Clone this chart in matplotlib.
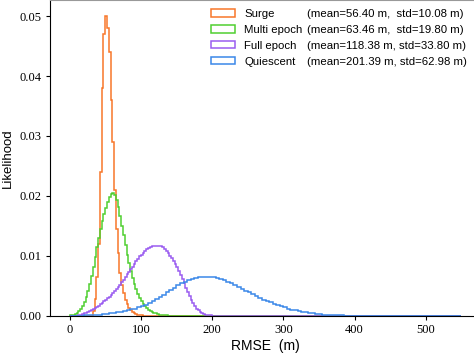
import numpy as np
import matplotlib
matplotlib.use('Agg')
import matplotlib.pyplot as plt
from matplotlib.ticker import FormatStrFormatter

# tick labels are serif, everything else names its own sans family
plt.rcParams['font.family'] = ['Liberation Serif', 'DejaVu Serif']

names = ['Surge', 'Multi epoch', 'Full epoch', 'Quiescent']
stats = ['(mean=56.40 m,  std=10.08 m)',
         '(mean=63.46 m,  std=19.80 m)',
         '(mean=118.38 m, std=33.80 m)',
         '(mean=201.39 m, std=62.98 m)']
colors = ['#f8772a', '#4fcf30', '#9a5cf0', '#3b88e8']

# likelihood per bin
# (first bin left edge, bin width in m, values)
surge_start, surge_width = 32.5, 2.5
surge = [0.0008, 0.0028, 0.0065, 0.0120, 0.024, 0.038, 0.047, 0.050,
         0.048, 0.044, 0.036, 0.029, 0.021, 0.0145, 0.0105, 0.0072,
         0.0052, 0.0038, 0.0027, 0.0019, 0.0013, 0.0009, 0.0006, 0.0004,
         0.00025, 0.00015, 0.0001, 0.00005]

multi_start, multi_width = 0, 2.5
multi = [0.00005, 0.0001, 0.0002, 0.0003, 0.0005, 0.0008, 0.0012, 0.0017,
         0.0023, 0.0031, 0.0041, 0.0053, 0.0067, 0.0082, 0.0098, 0.0114,
         0.0130, 0.0145, 0.0158, 0.0170, 0.0180, 0.0190, 0.0198, 0.0203,
         0.0205, 0.0201, 0.0193, 0.0181, 0.0166, 0.0150, 0.0134, 0.0118,
         0.0102, 0.0088, 0.0075, 0.0063, 0.0053, 0.0044, 0.0037, 0.0030,
         0.0025, 0.0020, 0.0016, 0.0013, 0.0010, 0.0008, 0.0006, 0.0005,
         0.0004, 0.0003, 0.0002, 0.00015, 0.0001, 0.00007, 0.00004, 0.00002]

full_start, full_width = 10, 2.5
full = [0.00003, 0.0001, 0.0002, 0.0003, 0.0004, 0.0005, 0.0006, 0.0008,
        0.0009, 0.0011, 0.0013, 0.0015, 0.0017, 0.0019, 0.0021, 0.0024,
        0.0026, 0.0029, 0.0032, 0.0035, 0.0038, 0.0041, 0.0044, 0.0048,
        0.0052, 0.0056, 0.0060, 0.0064, 0.0069, 0.0073, 0.0078, 0.0082,
        0.0087, 0.0091, 0.0095, 0.0099, 0.0102, 0.0105, 0.0108, 0.0111,
        0.0113, 0.0115, 0.0116, 0.0116, 0.0117, 0.0117, 0.0117, 0.0116,
        0.0114, 0.0111, 0.0108, 0.0104, 0.0100, 0.0096, 0.0091, 0.0086,
        0.0081, 0.0075, 0.0068, 0.0061, 0.0054, 0.0047, 0.0040, 0.0033,
        0.0027, 0.0021, 0.0016, 0.0012, 0.0009, 0.0006, 0.0004, 0.0003,
        0.0002, 0.00013, 0.00008, 0.00005, 0.00003, 0.00002]

quiet_start, quiet_width = 15, 5
quiet = [0.00003, 0.00005, 0.0001, 0.00013, 0.00017, 0.0002, 0.00025, 0.0003,
         0.00037, 0.00045, 0.00055, 0.00065, 0.00078, 0.0009, 0.00105, 0.0012,
         0.0014, 0.0016, 0.0018, 0.0021, 0.0024, 0.0028, 0.0031, 0.0035,
         0.0039, 0.0043, 0.0047, 0.0051, 0.0054, 0.0057, 0.0059, 0.0061,
         0.0063, 0.0064, 0.0065, 0.0065, 0.0065, 0.0064, 0.0063, 0.0061,
         0.0059, 0.0057, 0.0054, 0.0051, 0.0048, 0.0045, 0.0042, 0.0039,
         0.0036, 0.0033, 0.0030, 0.0027, 0.0025, 0.0023, 0.0020, 0.0018,
         0.0016, 0.0014, 0.0012, 0.0010, 0.00088, 0.00075, 0.00064, 0.00054,
         0.00045, 0.00037, 0.0003, 0.00024, 0.00019, 0.00015, 0.00011, 0.00008,
         0.00006, 0.00004, 0.00003, 0.00002, 0.00001]

series = [(surge_start, surge_width, surge),
          (multi_start, multi_width, multi),
          (full_start, full_width, full),
          (quiet_start, quiet_width, quiet)]
x_max = 550  # every histogram runs out to here along the baseline

fig = plt.figure(figsize=(4.74, 3.55), dpi=100)
# the original figure is cropped on the right, so the axes run past the edge
ax = fig.add_axes([50/474, 39.3/355, 431/474, 315.7/355])

handles = []
for (start, width, vals), name, c in zip(series, names, colors):
    edges = np.arange(0, x_max + width / 2, width)
    lefts = edges[:-1]
    w = np.zeros(len(lefts))
    i0 = int(round(start / width))
    w[i0:i0 + len(vals)] = vals
    _, _, patches = ax.hist(lefts, bins=edges, weights=w, histtype='step',
                            color=c, linewidth=1.1, label=name)
    handles.append(patches[0])

ax.set_ylim(0, 0.0527)
ax.yaxis.set_major_formatter(FormatStrFormatter('%.2f'))
ax.set_xticks([0, 100, 200, 300, 400, 500])
ax.set_yticks([0, 0.01, 0.02, 0.03, 0.04, 0.05])
ax.tick_params(length=3, width=0.8, labelsize=9, pad=3)
ax.spines['top'].set_color('#999999')

ax.set_xlabel('RMSE  (m)', family='Liberation Sans', fontsize=10, labelpad=2)
ax.set_ylabel('Likelihood', family='Liberation Sans', fontsize=9.5, labelpad=4)

# two column legend: names with handles, stats with invisible handles
blank = [plt.Rectangle((0, 0), 1, 1, visible=False) for _ in stats]
fs = 8.2 * 100 / 72
leg = ax.legend(handles + blank, names + stats, ncol=2, frameon=False,
                loc='upper left', bbox_to_anchor=(211/474, 1 - 9/355),
                bbox_transform=fig.transFigure,
                prop={'family': 'Liberation Sans', 'size': 8.2},
                borderpad=0, borderaxespad=0, handlelength=2.1,
                handleheight=0.6, handletextpad=0.8, labelspacing=0.52,
                columnspacing=5/fs - 2.9)

fig.savefig('out.png', dpi=100)
